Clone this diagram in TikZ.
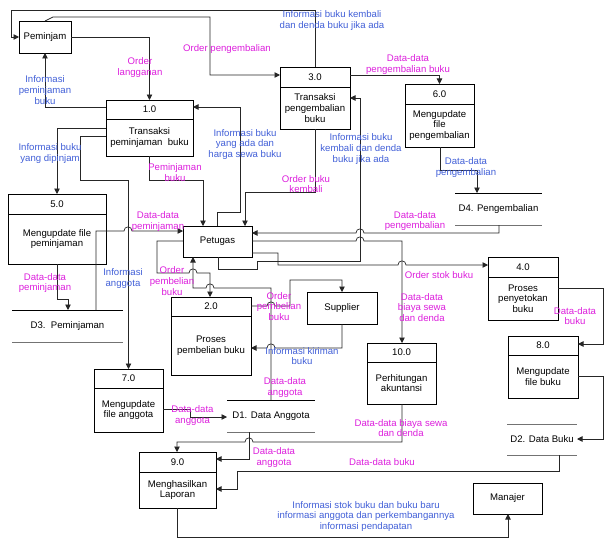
\documentclass[tikz,border=0pt]{standalone}
\usepackage{fontspec}
\setmainfont{Liberation Sans}
\usetikzlibrary{arrows.meta}
\definecolor{lblm}{RGB}{220,30,220}
\definecolor{lblb}{RGB}{65,95,215}
\tikzset{
  box/.style={draw=black, line width=0.8pt, inner sep=0pt, outer sep=0pt, rectangle, align=center, font=\fontsize{9.6}{10.6}\selectfont},
  flow/.style={draw=black!85, line width=0.7pt},
  arr/.style={flow, -{Triangle[length=5.5pt,width=5.5pt]}},
  txt/.style={inner sep=0pt, align=center, font=\fontsize{9.6}{10.6}\selectfont},
  lm/.style={txt, text=lblm},
  lb/.style={txt, text=lblb},
  storebox/.style={inner sep=0pt, outer sep=0pt, align=center, font=\fontsize{9.6}{10.6}\selectfont},
}
\newcommand\procbox[8]{%
  \node[box, minimum width={(#4-#2)*1pt}, minimum height={(#5-#3)*1pt}] (#1) at ({(#2+#4)/2},{(#3+#5)/2}) {};
  \draw[line width=0.8pt] (#2,#6) -- (#4,#6);
  \node[txt] (#1n) at ({(#2+#4)/2},{(#3+#6)/2}) {#7};
  \node[txt] (#1t) at ({(#2+#4)/2},{(#6+#5)/2}) {#8};
}
\newcommand\dstore[7]{%
  \node[storebox, minimum width={(#4-#2)*1pt}, minimum height={(#5-#3)*1pt}] (#1) at ({(#2+#4)/2},{(#3+#5)/2}) {#6};
  \draw[line width=0.8pt, #7] (#1.north west) -- (#1.north east);
  \draw[line width=0.8pt, black!55] (#1.south west) -- (#1.south east);
}
\begin{document}
\begin{tikzpicture}[x=1pt,y=-1pt]
\useasboundingbox (0,0) rectangle (613,543);

% external entities
\node[box, minimum width=52pt, minimum height=32pt] (pem) at (45,37) {Peminjam};
\node[box, minimum width=69pt, minimum height=31pt] (pet) at (217.5,241.5) {Petugas};
\node[box, minimum width=70pt, minimum height=32pt] (sup) at (342,308) {Supplier};
\node[box, minimum width=69pt, minimum height=31pt] (man) at (507.5,498.5) {Manajer};

% processes
\procbox{p1}{106}{100}{193}{156}{119}{1.0}{Transaksi\\peminjaman\ \ buku}
\procbox{p3}{280}{67}{350}{129}{87}{3.0}{Transaksi\\pengembalian\\buku}
\procbox{p6}{405}{84}{474}{147}{104}{6.0}{Mengupdate\\file\\pengembalian}
\procbox{p5}{8}{194}{106}{264}{214}{5.0}{Mengupdate file\\peminjaman}
\procbox{p2}{171}{297}{251}{375}{316}{2.0}{Proses\\pembelian buku}
\procbox{p4}{488}{257}{558}{320}{277}{4.0}{Proses\\penyetokan\\buku}
\procbox{p10}{367}{343}{436}{404}{362}{10.0}{Perhitungan\\akuntansi}
\procbox{p8}{508}{336}{578}{398}{355}{8.0}{Mengupdate\\file buku}
\procbox{p7}{94}{369}{163}{432}{388}{7.0}{Mengupdate\\file anggota}
\procbox{p9}{139}{452}{216}{508}{472}{9.0}{Menghasilkan\\Laporan}

% data stores
\dstore{d3}{12}{310}{123}{342}{D3.\ \ Peminjaman}{black}
\dstore{d4}{455}{193}{542}{225}{D4. Pengembalian}{black}
\dstore{d1}{227}{400}{315}{432}{D1. Data Anggota}{black}
\dstore{d2}{507}{424}{577}{455}{D2. Data Buku}{black!55}

% flows
\draw[arr] (p3.north) |- (11,10) |- (pem.west);
\draw[arr] (pem.north) -- (53,17) -| (210,75) -- (p3.west |- 0,75);
\draw[arr] (pem.east) -| (p1.north);
\draw[arr] (p1.west |- 0,107) -| (pem.south);
\draw[arr] (p1.west |- 0,128) -| (p5.north);
\draw[arr] (p1.west |- 0,136) -- (80,136) -- (80,180) -| (p7.north);
\draw[arr] (p1.south) |- (203,180) -- (pet.north -| 203,0);
\draw[arr] (pet.north -| 217,0) -- (217,212) -| (240,107) -- (p1.east |- 0,107);
\draw[arr] (p3.south) |- (245,192) -- (pet.north -| 245,0);
\draw[arr] (pet.south -| 218,0) -- (218,269) -- (257,269) -- (257,261) -- (360,261) -- (360,98) -- (p3.east |- 0,98);
\draw[arr] (p3.east |- 0,75) -| (p6.north);
\draw[arr] (p6.south -| 440,0) |- (477,170) -- (d4.north -| 477,0);
\draw[arr] (d4.south -| 499,0) -- (499,233) -- (364,233) .. controls (364,227.5) and (356,227.5) .. (356,233) -- (pet.east |- 0,233);
\draw[arr] (pet.east |- 0,241) -- (356,241) .. controls (356,235.5) and (364,235.5) .. (364,241) -- (402,241) -- (p10.north -| 402,0);
\draw[arr] (pet.east |- 0,253) -- (278,253) -- (278,265) -- (398,265) .. controls (398,259.5) and (406,259.5) .. (406,265) -- (p4.west |- 0,265);
\draw[arr] (p4.east |- 0,288) -- (603,288) -- (603,344) -- (p8.east |- 0,344);
\draw[arr] (p8.east |- 0,376) -- (603,376) -- (603,439) -- (d2.east |- 0,439);
\draw[arr] (p10.south -| 402,0) -- (402,442) -- (253,442) .. controls (253,436.5) and (245,436.5) .. (245,442) -- (177,442) -- (p9.north -| 177,0);
\draw[arr] (d1.south -| 249,0) -- (249,459) -- (p9.east |- 0,459);
\draw[arr] (d2.south -| 559,0) -- (559,471) -- (237,471) -- (237,489) -- (p9.east |- 0,489);
\draw[arr] (p9.south -| 177,0) -- (177,537) -- (508,537) -- (man.south -| 508,0);
\draw[arr] (p7.east |- 0,409) -- (190,409) -- (190,417) -- (d1.west |- 0,417);
\draw[arr] (p5.south -| 57,0) -- (57,299) -- (68,299) -- (d3.north -| 68,0);
\draw[arr] (d3.north -| 96,0) -- (96,231) -- (124,231) .. controls (124,225.5) and (132,225.5) .. (132,231) -- (pet.west |- 0,231);
\draw[arr] (pet.west |- 0,241) -- (157,241) -- (157,273) -- (189,273) .. controls (189,267.5) and (197,267.5) .. (197,273) -- (210,273) -- (p2.north -| 210,0);
\draw[arr] (d1.north -| 271,0) -- (271,288) -- (214,288) .. controls (214,282.5) and (206,282.5) .. (206,288) -- (193,288) -- (pet.south -| 193,0);
\draw[arr] (p2.east |- 0,306) -- (267,306) .. controls (267,300.5) and (275,300.5) .. (275,306) -- (290,306) -- (290,280) -- (342,280) -- (sup.north);
\draw[arr] (sup.south) -- (342,348) -- (275,348) .. controls (275,342.5) and (267,342.5) .. (267,348) -- (p2.east |- 0,348);

% labels
\node[lb] (l1) at (332,20.5) {Informasi buku kembali\\dan denda buku jika ada};
\node[lm] (l2) at (227,49) {Order pengembalian};
\node[lm] (l3) at (140,67.5) {Order\\langganan};
\node[lb] (l4) at (45,90) {Informasi\\peminjaman\\buku};
\node[lb] (l5) at (50,153.5) {Informasi buku\\yang dipinjam};
\node[lb] (l6) at (123,278.5) {Informasi\\anggota};
\node[lm] (l7) at (175,172.5) {Peminjaman\\buku};
\node[lb] (l8) at (245,144.5) {Informasi buku\\yang ada dan\\harga sewa buku};
\node[lm] (l9) at (306,184) {Order buku\\kembali};
\node[lb] (l10) at (361,149) {Informasi buku\\kembali dan denda\\buku jika ada};
\node[lm] (l11) at (408,64.5) {Data-data\\pengembalian buku};
\node[lb] (l12) at (466,167.5) {Data-data\\pengembalian};
\node[lm] (l13) at (415,221) {Data-data\\pengembalian};
\node[lm] (l14) at (422,307.5) {Data-data\\biaya sewa\\dan denda};
\node[lm] (l15) at (439,275.5) {Order stok buku};
\node[lm] (l16) at (575,316) {Data-data\\buku};
\node[lm] (l18) at (401,428) {Data-data biaya sewa\\dan denda};
\node[lm] (l19) at (274,457.5) {Data-data\\anggota};
\node[lm] (l20) at (382,462) {Data-data buku};
\node[lb] (l21) at (366,516.5) {Informasi stok buku dan buku baru\\informasi anggota dan perkembangannya\\informasi pendapatan};
\node[lm] (l22) at (192.5,415.5) {Data-data\\anggota};
\node[lm] (l23) at (45,283) {Data-data\\peminjaman};
\node[lm] (l24) at (158,221.5) {Data-data\\peminjaman};
\node[lm] (l25) at (172,281) {Order\\pembelian\\buku};
\node[lm] (l26) at (285,387.5) {Data-data\\anggota};
\node[lm] (l27) at (279,306.5) {Order\\pembelian\\buku};
\node[lb] (l28) at (302,356) {Informasi kiriman\\buku};
\end{tikzpicture}
\end{document}
